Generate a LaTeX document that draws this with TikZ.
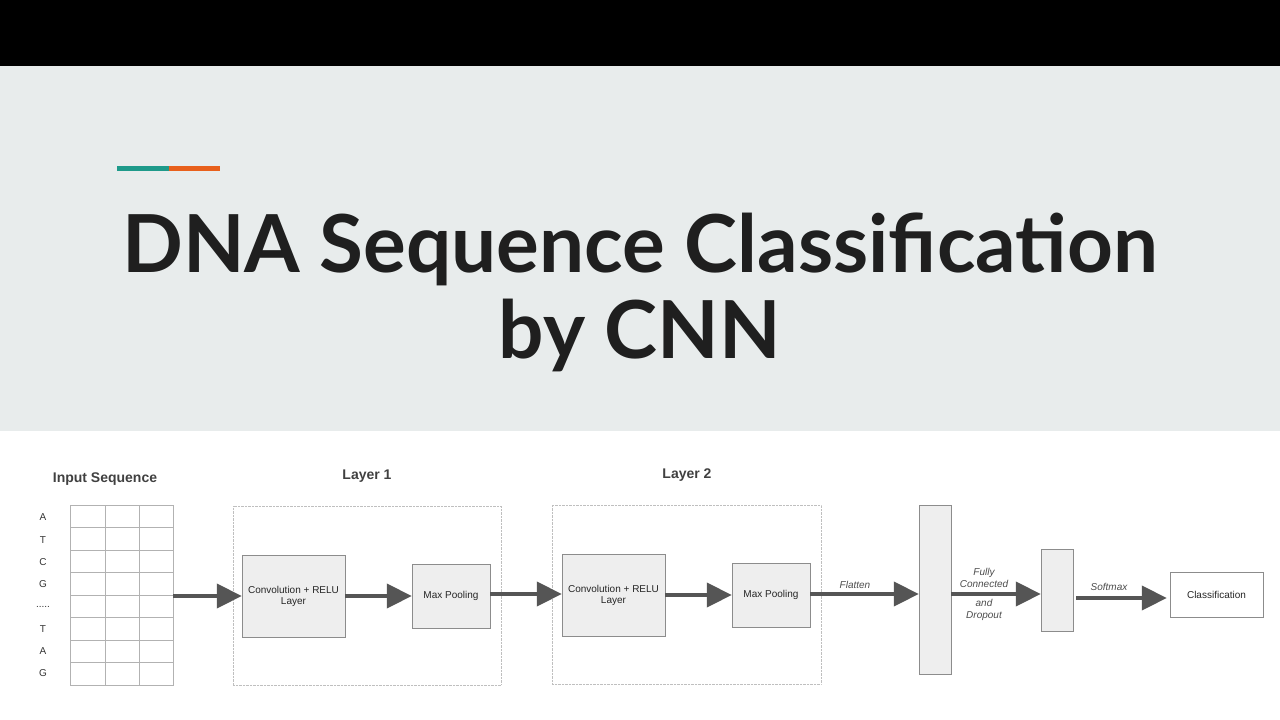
\documentclass[tikz,border=0pt]{standalone}
\usepackage{fontspec}
\setmainfont{Liberation Sans}
\newfontfamily\titlefont{Lato}
\usetikzlibrary{arrows.meta}
\definecolor{bandgrey}{HTML}{E8ECEC}
\definecolor{teal1}{HTML}{1E9A8A}
\definecolor{orange1}{HTML}{E8601C}
\definecolor{boxfill}{HTML}{EEEEEE}
\definecolor{arr}{HTML}{555555}
\tikzset{
  box/.style={draw=black!45,fill=boxfill,inner sep=0,font=\fontsize{10}{11}\selectfont,align=center,text=black!85},
  layerbox/.style={draw=black!25,densely dotted,inner sep=0},
  flow/.style={draw=arr,line width=4pt,-{Triangle[length=25pt,width=24pt]}},
  lab/.style={font=\fontsize{10}{12}\selectfont\itshape,text=black!70},
  head/.style={font=\fontsize{14}{16}\selectfont\bfseries,text=black!75},
  base/.style={font=\fontsize{10}{12}\selectfont,text=black!80}
}
\begin{document}
\begin{tikzpicture}[x=1pt,y=-1pt]
\useasboundingbox (0,0) rectangle (1280,720);
\fill[black] (0,0) rectangle (1280,66);
\fill[bandgrey] (0,66) rectangle (1280,431);
\fill[teal1] (117,166) rectangle (169,171);
\fill[orange1] (169,166) rectangle (220,171);
\node[font=\titlefont\bfseries\fontsize{80}{86}\selectfont,text=black!88,anchor=base] (t1) at (640,272) {DNA Sequence Classification};
\node[font=\titlefont\bfseries\fontsize{80}{86}\selectfont,text=black!88,anchor=base] (t2) at (640,358) {by CNN};
% input
\node[head] (inh) at (105,479) {Input Sequence};
\node[draw=black!30,minimum width=103,minimum height=180,inner sep=0] (grid) at (121.5,595) {};
\foreach \x in {105,139} \draw[black!30] (\x,505) -- (\x,685);
\foreach \i in {1,...,7} \draw[black!30] (70,505+22.5*\i) -- (173,505+22.5*\i);
\foreach \t/\y in {A/517,T/540,C/562,G/584,{.....}/607,T/629,A/651,G/673}
  \node[base] at (43,\y) {\t};
% layers
\node[layerbox,minimum width=268,minimum height=179] (L1) at (367,595.5) {};
\node[head] (l1h) at (367,476) {Layer 1};
\node[layerbox,minimum width=269,minimum height=179] (L2) at (686.5,594.5) {};
\node[head] (l2h) at (687,475) {Layer 2};
\node[box,minimum width=103,minimum height=82] (c1) at (293.5,596) {Convolution + RELU\\Layer};
\node[box,minimum width=78,minimum height=64] (m1) at (451,596) {Max Pooling};
\node[box,minimum width=103,minimum height=82] (c2) at (613.5,595) {Convolution + RELU\\Layer};
\node[box,minimum width=78,minimum height=64] (m2) at (771,595) {Max Pooling};
\node[box,minimum width=32,minimum height=169] (b1) at (935,589.5) {};
\node[box,minimum width=32,minimum height=82] (b2) at (1057,590) {};
\node[box,fill=white,minimum width=93,minimum height=45] (cl) at (1216.5,594.5) {Classification};
% arrows
\draw[flow] (grid.east |- 0,596) -- (c1.west |- 0,596);
\draw[flow] (c1.east |- 0,596) -- (m1.west |- 0,596);
\draw[flow] (m1.east |- 0,594) -- (c2.west |- 0,594);
\draw[flow] (c2.east |- 0,595) -- (m2.west |- 0,595);
\draw[flow] (m2.east |- 0,594) -- (b1.west |- 0,594);
\draw[flow] (b1.east |- 0,594) -- (b2.west |- 0,594);
\draw[flow] ([xshift=3]b2.east |- 0,598) -- ([xshift=-3]cl.west |- 0,598);
\node[lab] (f) at (855,585) {Flatten};
\node[lab,align=center] (fc1) at (984,578) {Fully\\Connected};
\node[lab,align=center] (fc2) at (984,610) {and\\Dropout};
\node[lab] (sm) at (1109,587) {Softmax};
\end{tikzpicture}
\end{document}
